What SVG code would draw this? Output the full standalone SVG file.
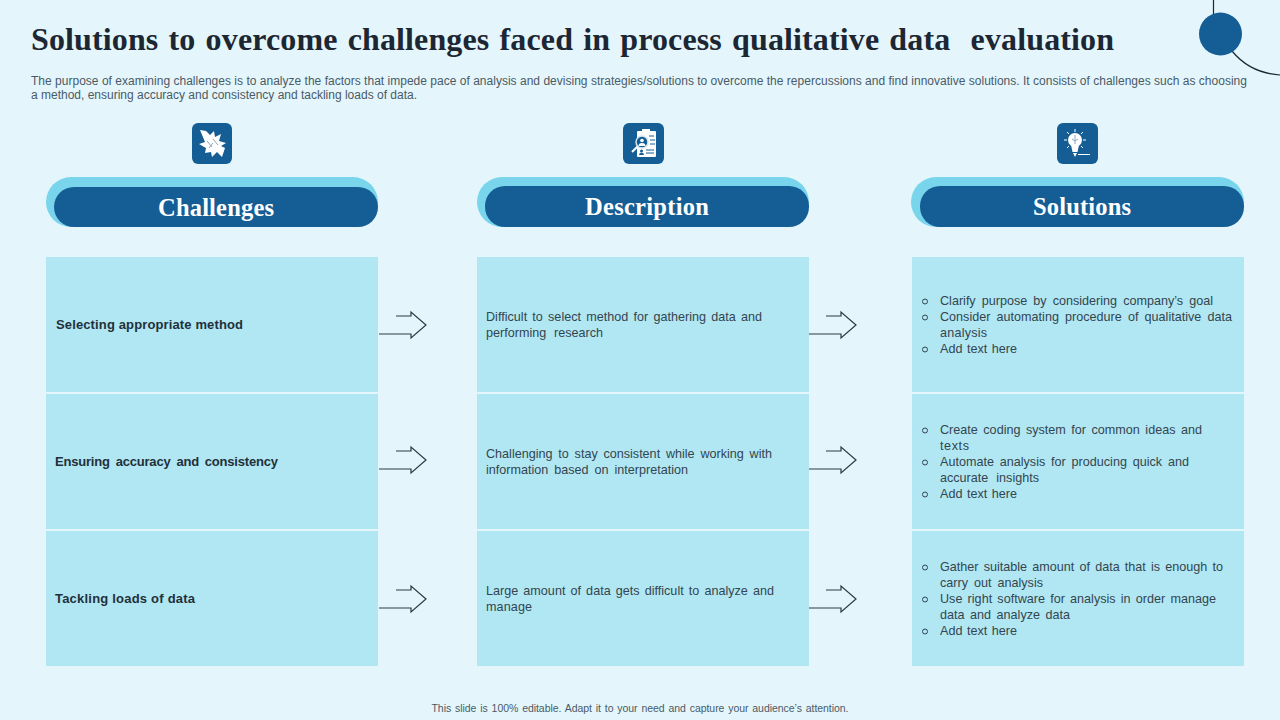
<svg xmlns="http://www.w3.org/2000/svg" width="1280" height="720" viewBox="0 0 1280 720">
<style>
.title{font-family:"Liberation Serif",serif;font-weight:700;font-size:32px;fill:#1c2733;white-space:pre}
.intro{font-family:"Liberation Sans",Arial,sans-serif;font-size:12px;fill:#4a5a66}
.head{font-family:"Liberation Serif",serif;font-weight:700;font-size:24.500px;fill:#fff;text-anchor:middle}
.lab{font-family:"Liberation Sans",Arial,sans-serif;font-weight:700;font-size:13px;fill:#22303a}
.txt{font-family:"Liberation Sans",Arial,sans-serif;font-size:12.600px;fill:#33454f}
.cell{fill:#b1e7f3}
.back{fill:#79d5ec}
.front{fill:#155e95}
.arrow{fill:none;stroke:#2b3a42;stroke-width:1.200}
.bul{fill:none;stroke:#33454f;stroke-width:1}
.ic{fill:#155e95}
.w{fill:#fff}
.ws{fill:none;stroke:#fff;stroke-width:1}
.bl{fill:none;stroke:#155e95;stroke-width:1}
</style>
<defs>
<path id="arr" class="arrow" d="M0 9H32V13L47 0L32-13V-9H17"/>
</defs>
<rect width="1280" height="720" fill="#e4f6fc"/>
<g id="deco">
<path d="M1213.500 0V15" fill="none" stroke="#1c2733" stroke-width="1.200"/>
<path d="M1232 51Q1250 73 1280 75" fill="none" stroke="#1c2733" stroke-width="1.200"/>
<circle cx="1220.500" cy="34" r="21.500" fill="#155e95"/>
</g>
<text class="title" x="31" y="50" word-spacing="2" textLength="1083">Solutions to overcome challenges faced in process qualitative data  evaluation</text>
<text class="intro" x="31" y="85" textLength="1216">The purpose of examining challenges is to analyze the factors that impede pace of analysis and devising strategies/solutions to overcome the repercussions and find innovative solutions. It consists of challenges such as choosing</text>
<text class="intro" x="31" y="99" textLength="386">a method, ensuring accuracy and consistency and tackling loads of data.</text>

<g id="icon-challenges">
<rect class="ic" x="192" y="123" width="40" height="41" rx="6"/>
<path class="w" d="M200 130L206 131L210 135L214 131L215 137L221 134L219 141L226 143L221 146L225 148L222 157L217 152L212 157L211 152L205 153L206 148L199 144L205 142Z"/>
<path d="M207 141L212 147M213 139L218 145M209 148L213 143" stroke="#8aa9bd" stroke-width="1" fill="none"/>
</g>
<g id="icon-description">
<rect class="ic" x="623" y="123" width="41" height="41" rx="6"/>
<rect class="w" x="637" y="131" width="19" height="26" rx="1"/>
<rect class="w" x="642" y="129" width="8" height="4"/>
<circle cx="642" cy="142" r="6" fill="#155e95" stroke="#d5e6f0" stroke-width="1.500"/>
<circle class="w" cx="642" cy="140.500" r="1.800"/>
<path class="w" d="M638.500 146a3.500 3 0 0 1 7 0z"/>
<path d="M637.500 146.500L632 152" stroke="#fff" stroke-width="2"/>
<path class="bl" d="M649 136h5M650 140h5M650 144h5M646 150h8M646 153h8"/>
<circle cx="641.500" cy="151" r="1.500" fill="#155e95"/>
<path d="M639 155a2.500 2.200 0 0 1 5 0z" fill="#155e95"/>
</g>
<g id="icon-solutions">
<rect class="ic" x="1057" y="123" width="41" height="41" rx="6"/>
<circle class="w" cx="1075" cy="140" r="7"/>
<path class="w" d="M1071 145h8l-1.500 7h-5zM1073 153h4l-2 4z"/>
<path class="ws" d="M1078 154.500H1090M1075 129v3M1064 140h3M1083 140h3M1067 132l2 2M1083 132l-2 2M1067 148l2-2M1083 148l-2-2"/>
<path d="M1075 135v9M1072 139l3 2M1078 139l-3 2" stroke="#8aa9bd" stroke-width="1" fill="none"/>
</g>

<g id="header-challenges">
<rect class="back" x="46" y="177" width="332" height="50" rx="25"/>
<rect class="front" x="54" y="187" width="324" height="40" rx="20"/>
<text class="head" x="216" y="215.500" textLength="116">Challenges</text>
</g>
<g id="header-description">
<rect class="back" x="477" y="177" width="332" height="50" rx="25"/>
<rect class="front" x="485" y="186" width="324" height="41" rx="20"/>
<text class="head" x="647" y="214.500" textLength="124">Description</text>
</g>
<g id="header-solutions">
<rect class="back" x="911" y="177" width="333" height="50" rx="25"/>
<rect class="front" x="920" y="186" width="324" height="41" rx="20"/>
<text class="head" x="1082" y="214.500" textLength="98">Solutions</text>
</g>

<g id="node-c1"><rect class="cell" x="46" y="257" width="332" height="135"/>
<text class="lab" x="56" y="329" textLength="187">Selecting appropriate method</text></g>
<g id="node-c2"><rect class="cell" x="46" y="394" width="332" height="135"/>
<text class="lab" x="55" y="466" word-spacing="2.500" textLength="223">Ensuring accuracy and consistency</text></g>
<g id="node-c3"><rect class="cell" x="46" y="531" width="332" height="135"/>
<text class="lab" x="55" y="603" textLength="140">Tackling loads of data</text></g>

<g id="node-d1"><rect class="cell" x="477" y="257" width="332" height="135"/>
<text class="txt" x="486" y="321" word-spacing="1.700" textLength="276">Difficult to select method for gathering data and</text>
<text class="txt" x="486" y="337" word-spacing="4.300" textLength="117">performing research</text></g>
<g id="node-d2"><rect class="cell" x="477" y="394" width="332" height="135"/>
<text class="txt" x="486" y="458" word-spacing="2.300" textLength="286">Challenging to stay consistent while working with</text>
<text class="txt" x="486" y="474" word-spacing="2.400" textLength="202">information based on interpretation</text></g>
<g id="node-d3"><rect class="cell" x="477" y="531" width="332" height="135"/>
<text class="txt" x="486" y="595" word-spacing="1.600" textLength="288">Large amount of data gets difficult to analyze and</text>
<text class="txt" x="486" y="611" textLength="46">manage</text></g>

<g id="node-s1"><rect class="cell" x="912" y="257" width="332" height="135"/>
<circle class="bul" cx="925" cy="301.500" r="2.500"/><text class="txt" x="940" y="305" word-spacing="2.600" textLength="273">Clarify purpose by considering company’s goal</text>
<circle class="bul" cx="925" cy="317.500" r="2.500"/><text class="txt" x="940" y="321" word-spacing="2.660" textLength="292">Consider automating procedure of qualitative data</text>
<text class="txt" x="940" y="337" textLength="47">analysis</text>
<circle class="bul" cx="925" cy="349.500" r="2.500"/><text class="txt" x="940" y="353" word-spacing="1" textLength="77">Add text here</text></g>
<g id="node-s2"><rect class="cell" x="912" y="394" width="332" height="135"/>
<circle class="bul" cx="925" cy="430.500" r="2.500"/><text class="txt" x="940" y="434" word-spacing="2" textLength="262">Create coding system for common ideas and</text>
<text class="txt" x="940" y="450" textLength="29">texts</text>
<circle class="bul" cx="925" cy="462.500" r="2.500"/><text class="txt" x="940" y="466" word-spacing="2.300" textLength="249">Automate analysis for producing quick and</text>
<text class="txt" x="940" y="482" word-spacing="4.500" textLength="99">accurate insights</text>
<circle class="bul" cx="925" cy="494.500" r="2.500"/><text class="txt" x="940" y="498" word-spacing="1" textLength="77">Add text here</text></g>
<g id="node-s3"><rect class="cell" x="912" y="531" width="332" height="135"/>
<circle class="bul" cx="925" cy="567.500" r="2.500"/><text class="txt" x="940" y="571" word-spacing="1.660" textLength="283">Gather suitable amount of data that is enough to</text>
<text class="txt" x="940" y="587" word-spacing="2.500" textLength="103">carry out analysis</text>
<circle class="bul" cx="925" cy="599.500" r="2.500"/><text class="txt" x="940" y="603" word-spacing="1.700" textLength="276">Use right software for analysis in order manage</text>
<text class="txt" x="940" y="619" word-spacing="2" textLength="130">data and analyze data</text>
<circle class="bul" cx="925" cy="631.500" r="2.500"/><text class="txt" x="940" y="635" word-spacing="1" textLength="77">Add text here</text></g>

<g id="connectors">
<use href="#arr" x="379" y="325"/>
<use href="#arr" x="379" y="460"/>
<use href="#arr" x="379" y="599"/>
<use href="#arr" x="809" y="325"/>
<use href="#arr" x="809" y="460"/>
<use href="#arr" x="809" y="599"/>
</g>
<text x="640" y="712" text-anchor="middle" word-spacing="1" textLength="417" font-family="Liberation Sans, Arial, sans-serif" font-size="10.500" fill="#4a5a66">This slide is 100% editable.  Adapt it to your need and capture your audience’s attention.</text>
</svg>
